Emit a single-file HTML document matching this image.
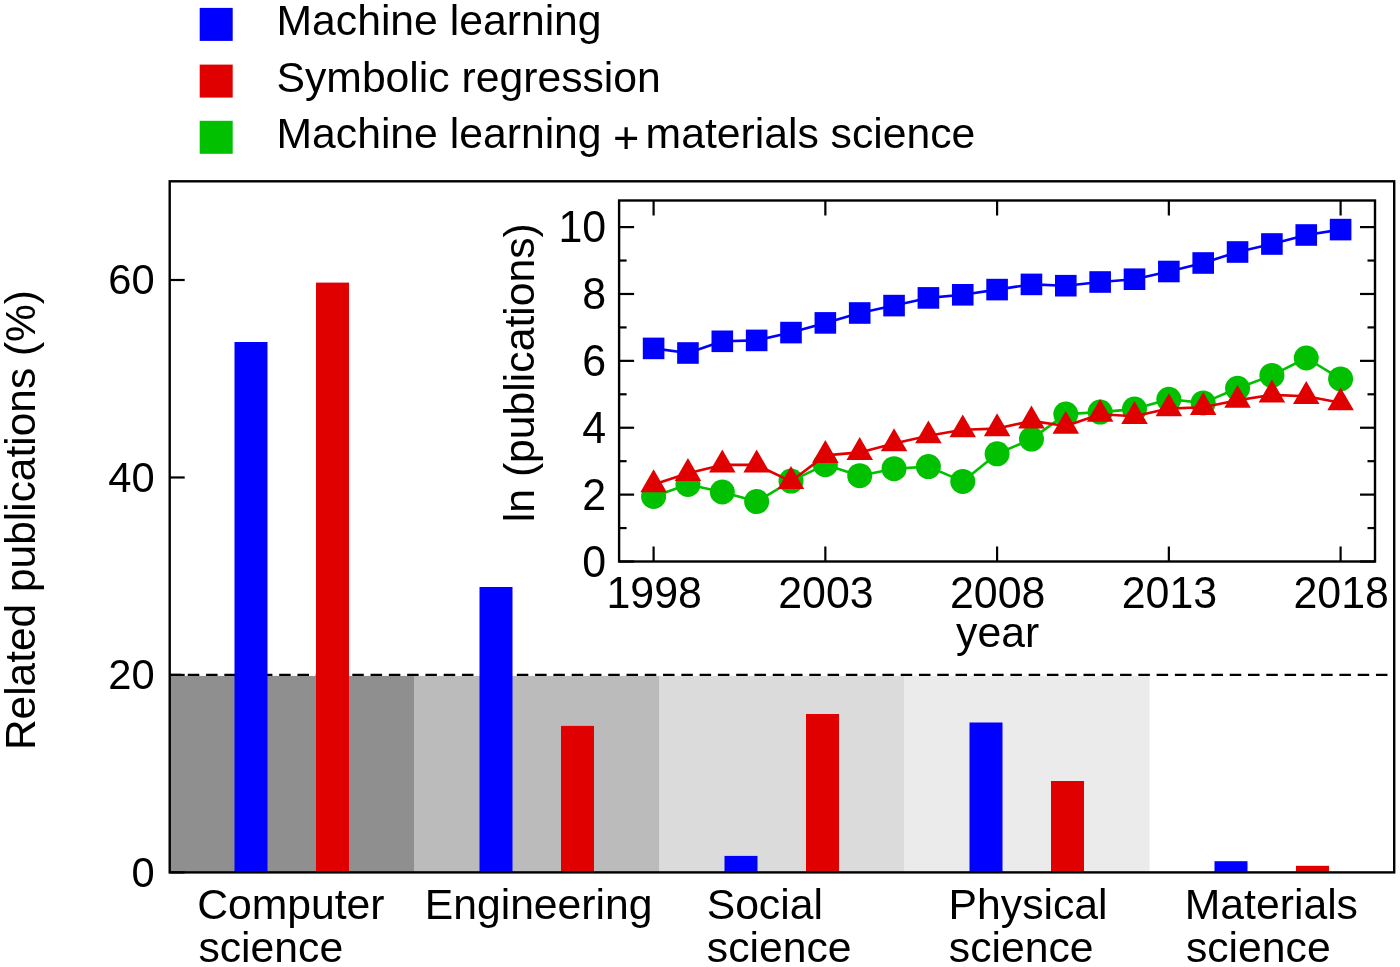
<!DOCTYPE html>
<html><head><meta charset="utf-8"><title>Related publications</title>
<style>
html,body{margin:0;padding:0;background:#fff;}
body{width:1400px;height:967px;overflow:hidden;}
svg{display:block;}
text{font-family:"Liberation Sans", Arial, Helvetica, sans-serif;fill:#000;}
</style></head>
<body>
<svg width="1400" height="967" viewBox="0 0 1400 967">
<rect width="1400" height="967" fill="#fff"/>
<rect x="199.7" y="7.9" width="33" height="33" fill="#0000ff"/>
<text x="276.50" y="35.40" text-anchor="start" font-size="42.7" >Machine learning</text>
<rect x="199.7" y="64.6" width="33" height="33" fill="#e00000"/>
<text x="276.50" y="91.60" text-anchor="start" font-size="42.7" >Symbolic regression</text>
<rect x="199.7" y="120.8" width="33" height="33" fill="#00c000"/>
<text x="276.50" y="147.80" text-anchor="start" font-size="42.7" >Machine learning</text>
<text x="613.00" y="152.50" text-anchor="start" font-size="45" >+</text>
<text x="645.60" y="147.80" text-anchor="start" font-size="42.7" >materials science</text>
<rect x="169.6" y="675.93" width="245" height="196.47" fill="#8f8f8f"/>
<rect x="414.6" y="675.93" width="245" height="196.47" fill="#bbbbbb"/>
<rect x="659.6" y="675.93" width="245" height="196.47" fill="#dbdbdb"/>
<rect x="904.6" y="675.93" width="245" height="196.47" fill="#ebebeb"/>
<line x1="169.5" y1="674.93" x2="1393" y2="674.93" stroke="#000" stroke-width="2.2" stroke-dasharray="11.5 6.78"/>
<rect x="234.50" y="342.0" width="33" height="530.40" fill="#0000ff"/>
<rect x="316.00" y="282.6" width="33" height="589.80" fill="#e00000"/>
<rect x="479.50" y="587.0" width="33" height="285.40" fill="#0000ff"/>
<rect x="561.00" y="725.9" width="33" height="146.50" fill="#e00000"/>
<rect x="724.50" y="855.9" width="33" height="16.50" fill="#0000ff"/>
<rect x="806.00" y="714.0" width="33" height="158.40" fill="#e00000"/>
<rect x="969.50" y="722.5" width="33" height="149.90" fill="#0000ff"/>
<rect x="1051.00" y="781.0" width="33" height="91.40" fill="#e00000"/>
<rect x="1214.50" y="861.2" width="33" height="11.20" fill="#0000ff"/>
<rect x="1296.00" y="865.8" width="33" height="6.60" fill="#e00000"/>
<rect x="169.7" y="181.3" width="1224.50" height="691.10" fill="none" stroke="#000" stroke-width="2.4"/>
<line x1="169.7" y1="872.40" x2="184.7" y2="872.40" stroke="#000" stroke-width="2.2"/>
<text x="154.60" y="886.70" text-anchor="end" font-size="41.7" >0</text>
<line x1="169.7" y1="674.93" x2="184.7" y2="674.93" stroke="#000" stroke-width="2.2"/>
<text x="154.60" y="689.23" text-anchor="end" font-size="41.7" >20</text>
<line x1="169.7" y1="477.47" x2="184.7" y2="477.47" stroke="#000" stroke-width="2.2"/>
<text x="154.60" y="491.77" text-anchor="end" font-size="41.7" >40</text>
<line x1="169.7" y1="280.00" x2="184.7" y2="280.00" stroke="#000" stroke-width="2.2"/>
<text x="154.60" y="294.30" text-anchor="end" font-size="41.7" >60</text>
<text transform="translate(35.20 750.08) rotate(-90) scale(1 1.0)" text-anchor="start" font-size="42.45">Related publications (%)</text>
<text x="197.13" y="919.20" text-anchor="start" font-size="42.7" >Computer</text>
<text x="198.41" y="962.20" text-anchor="start" font-size="42.7" >science</text>
<text x="424.70" y="919.20" text-anchor="start" font-size="42.7" >Engineering</text>
<text x="706.66" y="919.20" text-anchor="start" font-size="42.7" >Social</text>
<text x="706.81" y="962.20" text-anchor="start" font-size="42.7" >science</text>
<text x="948.60" y="919.20" text-anchor="start" font-size="42.7" >Physical</text>
<text x="948.81" y="962.20" text-anchor="start" font-size="42.7" >science</text>
<text x="1184.80" y="919.20" text-anchor="start" font-size="42.7" >Materials</text>
<text x="1185.91" y="962.20" text-anchor="start" font-size="42.7" >science</text>
<rect x="619.1" y="200.5" width="755.90" height="361.00" fill="#fff" stroke="#000" stroke-width="2.4"/>
<line x1="619.1" y1="561.50" x2="634.1" y2="561.50" stroke="#000" stroke-width="2.2"/>
<line x1="1375.0" y1="561.50" x2="1360.0" y2="561.50" stroke="#000" stroke-width="2.2"/>
<text transform="translate(606.20 576.50) scale(1 1.04)" text-anchor="end" font-size="42.9" >0</text>
<line x1="619.1" y1="528.06" x2="626.6" y2="528.06" stroke="#000" stroke-width="2.2"/>
<line x1="1375.0" y1="528.06" x2="1367.5" y2="528.06" stroke="#000" stroke-width="2.2"/>
<line x1="619.1" y1="494.62" x2="634.1" y2="494.62" stroke="#000" stroke-width="2.2"/>
<line x1="1375.0" y1="494.62" x2="1360.0" y2="494.62" stroke="#000" stroke-width="2.2"/>
<text transform="translate(606.20 509.62) scale(1 1.04)" text-anchor="end" font-size="42.9" >2</text>
<line x1="619.1" y1="461.18" x2="626.6" y2="461.18" stroke="#000" stroke-width="2.2"/>
<line x1="1375.0" y1="461.18" x2="1367.5" y2="461.18" stroke="#000" stroke-width="2.2"/>
<line x1="619.1" y1="427.74" x2="634.1" y2="427.74" stroke="#000" stroke-width="2.2"/>
<line x1="1375.0" y1="427.74" x2="1360.0" y2="427.74" stroke="#000" stroke-width="2.2"/>
<text transform="translate(606.20 442.74) scale(1 1.04)" text-anchor="end" font-size="42.9" >4</text>
<line x1="619.1" y1="394.30" x2="626.6" y2="394.30" stroke="#000" stroke-width="2.2"/>
<line x1="1375.0" y1="394.30" x2="1367.5" y2="394.30" stroke="#000" stroke-width="2.2"/>
<line x1="619.1" y1="360.86" x2="634.1" y2="360.86" stroke="#000" stroke-width="2.2"/>
<line x1="1375.0" y1="360.86" x2="1360.0" y2="360.86" stroke="#000" stroke-width="2.2"/>
<text transform="translate(606.20 375.86) scale(1 1.04)" text-anchor="end" font-size="42.9" >6</text>
<line x1="619.1" y1="327.42" x2="626.6" y2="327.42" stroke="#000" stroke-width="2.2"/>
<line x1="1375.0" y1="327.42" x2="1367.5" y2="327.42" stroke="#000" stroke-width="2.2"/>
<line x1="619.1" y1="293.98" x2="634.1" y2="293.98" stroke="#000" stroke-width="2.2"/>
<line x1="1375.0" y1="293.98" x2="1360.0" y2="293.98" stroke="#000" stroke-width="2.2"/>
<text transform="translate(606.20 308.98) scale(1 1.04)" text-anchor="end" font-size="42.9" >8</text>
<line x1="619.1" y1="260.54" x2="626.6" y2="260.54" stroke="#000" stroke-width="2.2"/>
<line x1="1375.0" y1="260.54" x2="1367.5" y2="260.54" stroke="#000" stroke-width="2.2"/>
<line x1="619.1" y1="227.10" x2="634.1" y2="227.10" stroke="#000" stroke-width="2.2"/>
<line x1="1375.0" y1="227.10" x2="1360.0" y2="227.10" stroke="#000" stroke-width="2.2"/>
<text transform="translate(606.20 242.10) scale(1 1.04)" text-anchor="end" font-size="42.9" >10</text>
<line x1="653.60" y1="561.5" x2="653.60" y2="546.5" stroke="#000" stroke-width="2.2"/>
<line x1="653.60" y1="200.5" x2="653.60" y2="215.5" stroke="#000" stroke-width="2.2"/>
<text transform="translate(654.20 607.60) scale(1 1.04)" text-anchor="middle" font-size="42.9" >1998</text>
<line x1="825.35" y1="561.5" x2="825.35" y2="546.5" stroke="#000" stroke-width="2.2"/>
<line x1="825.35" y1="200.5" x2="825.35" y2="215.5" stroke="#000" stroke-width="2.2"/>
<text transform="translate(825.95 607.60) scale(1 1.04)" text-anchor="middle" font-size="42.9" >2003</text>
<line x1="997.10" y1="561.5" x2="997.10" y2="546.5" stroke="#000" stroke-width="2.2"/>
<line x1="997.10" y1="200.5" x2="997.10" y2="215.5" stroke="#000" stroke-width="2.2"/>
<text transform="translate(997.70 607.60) scale(1 1.04)" text-anchor="middle" font-size="42.9" >2008</text>
<line x1="1168.85" y1="561.5" x2="1168.85" y2="546.5" stroke="#000" stroke-width="2.2"/>
<line x1="1168.85" y1="200.5" x2="1168.85" y2="215.5" stroke="#000" stroke-width="2.2"/>
<text transform="translate(1169.45 607.60) scale(1 1.04)" text-anchor="middle" font-size="42.9" >2013</text>
<line x1="1340.60" y1="561.5" x2="1340.60" y2="546.5" stroke="#000" stroke-width="2.2"/>
<line x1="1340.60" y1="200.5" x2="1340.60" y2="215.5" stroke="#000" stroke-width="2.2"/>
<text transform="translate(1341.20 607.60) scale(1 1.04)" text-anchor="middle" font-size="42.9" >2018</text>
<text x="997.60" y="646.50" text-anchor="middle" font-size="42.7" >year</text>
<text transform="translate(534.00 522.18) rotate(-90) scale(1 1.0)" text-anchor="start" font-size="42.7">ln (publications)</text>
<polyline points="653.60,348.40 687.95,353.00 722.30,341.30 756.65,340.40 791.00,332.60 825.35,322.90 859.70,313.00 894.05,305.60 928.40,297.90 962.75,294.80 997.10,289.60 1031.45,284.40 1065.80,285.70 1100.15,282.00 1134.50,279.20 1168.85,271.50 1203.20,263.00 1237.55,252.00 1271.90,244.00 1306.25,235.00 1340.60,229.60" fill="none" stroke="#0000ff" stroke-width="2.6" stroke-linejoin="round"/>
<rect x="642.80" y="337.60" width="21.6" height="21.6" fill="#0000ff"/>
<rect x="677.15" y="342.20" width="21.6" height="21.6" fill="#0000ff"/>
<rect x="711.50" y="330.50" width="21.6" height="21.6" fill="#0000ff"/>
<rect x="745.85" y="329.60" width="21.6" height="21.6" fill="#0000ff"/>
<rect x="780.20" y="321.80" width="21.6" height="21.6" fill="#0000ff"/>
<rect x="814.55" y="312.10" width="21.6" height="21.6" fill="#0000ff"/>
<rect x="848.90" y="302.20" width="21.6" height="21.6" fill="#0000ff"/>
<rect x="883.25" y="294.80" width="21.6" height="21.6" fill="#0000ff"/>
<rect x="917.60" y="287.10" width="21.6" height="21.6" fill="#0000ff"/>
<rect x="951.95" y="284.00" width="21.6" height="21.6" fill="#0000ff"/>
<rect x="986.30" y="278.80" width="21.6" height="21.6" fill="#0000ff"/>
<rect x="1020.65" y="273.60" width="21.6" height="21.6" fill="#0000ff"/>
<rect x="1055.00" y="274.90" width="21.6" height="21.6" fill="#0000ff"/>
<rect x="1089.35" y="271.20" width="21.6" height="21.6" fill="#0000ff"/>
<rect x="1123.70" y="268.40" width="21.6" height="21.6" fill="#0000ff"/>
<rect x="1158.05" y="260.70" width="21.6" height="21.6" fill="#0000ff"/>
<rect x="1192.40" y="252.20" width="21.6" height="21.6" fill="#0000ff"/>
<rect x="1226.75" y="241.20" width="21.6" height="21.6" fill="#0000ff"/>
<rect x="1261.10" y="233.20" width="21.6" height="21.6" fill="#0000ff"/>
<rect x="1295.45" y="224.20" width="21.6" height="21.6" fill="#0000ff"/>
<rect x="1329.80" y="218.80" width="21.6" height="21.6" fill="#0000ff"/>
<polyline points="653.60,496.50 687.95,484.50 722.30,492.00 756.65,501.60 791.00,481.10 825.35,464.70 859.70,475.70 894.05,468.70 928.40,466.60 962.75,481.40 997.10,453.80 1031.45,439.10 1065.80,414.10 1100.15,412.10 1134.50,409.10 1168.85,399.30 1203.20,402.90 1237.55,388.30 1271.90,375.40 1306.25,358.00 1340.60,378.90" fill="none" stroke="#00c000" stroke-width="2.6" stroke-linejoin="round"/>
<circle cx="653.60" cy="496.50" r="12.5" fill="#00c000"/>
<circle cx="687.95" cy="484.50" r="12.5" fill="#00c000"/>
<circle cx="722.30" cy="492.00" r="12.5" fill="#00c000"/>
<circle cx="756.65" cy="501.60" r="12.5" fill="#00c000"/>
<circle cx="791.00" cy="481.10" r="12.5" fill="#00c000"/>
<circle cx="825.35" cy="464.70" r="12.5" fill="#00c000"/>
<circle cx="859.70" cy="475.70" r="12.5" fill="#00c000"/>
<circle cx="894.05" cy="468.70" r="12.5" fill="#00c000"/>
<circle cx="928.40" cy="466.60" r="12.5" fill="#00c000"/>
<circle cx="962.75" cy="481.40" r="12.5" fill="#00c000"/>
<circle cx="997.10" cy="453.80" r="12.5" fill="#00c000"/>
<circle cx="1031.45" cy="439.10" r="12.5" fill="#00c000"/>
<circle cx="1065.80" cy="414.10" r="12.5" fill="#00c000"/>
<circle cx="1100.15" cy="412.10" r="12.5" fill="#00c000"/>
<circle cx="1134.50" cy="409.10" r="12.5" fill="#00c000"/>
<circle cx="1168.85" cy="399.30" r="12.5" fill="#00c000"/>
<circle cx="1203.20" cy="402.90" r="12.5" fill="#00c000"/>
<circle cx="1237.55" cy="388.30" r="12.5" fill="#00c000"/>
<circle cx="1271.90" cy="375.40" r="12.5" fill="#00c000"/>
<circle cx="1306.25" cy="358.00" r="12.5" fill="#00c000"/>
<circle cx="1340.60" cy="378.90" r="12.5" fill="#00c000"/>
<polyline points="653.60,484.50 687.95,473.30 722.30,464.90 756.65,464.90 791.00,481.30 825.35,455.40 859.70,452.40 894.05,443.60 928.40,435.70 962.75,429.70 997.10,428.60 1031.45,420.90 1065.80,426.00 1100.15,414.20 1134.50,416.30 1168.85,408.60 1203.20,407.30 1237.55,400.20 1271.90,394.90 1306.25,396.30 1340.60,402.70" fill="none" stroke="#e00000" stroke-width="2.6" stroke-linejoin="round"/>
<polygon points="653.60,469.20 640.35,492.15 666.85,492.15" fill="#e00000"/>
<polygon points="687.95,458.00 674.70,480.95 701.20,480.95" fill="#e00000"/>
<polygon points="722.30,449.60 709.05,472.55 735.55,472.55" fill="#e00000"/>
<polygon points="756.65,449.60 743.40,472.55 769.90,472.55" fill="#e00000"/>
<polygon points="791.00,466.00 777.75,488.95 804.25,488.95" fill="#e00000"/>
<polygon points="825.35,440.10 812.10,463.05 838.60,463.05" fill="#e00000"/>
<polygon points="859.70,437.10 846.45,460.05 872.95,460.05" fill="#e00000"/>
<polygon points="894.05,428.30 880.80,451.25 907.30,451.25" fill="#e00000"/>
<polygon points="928.40,420.40 915.15,443.35 941.65,443.35" fill="#e00000"/>
<polygon points="962.75,414.40 949.50,437.35 976.00,437.35" fill="#e00000"/>
<polygon points="997.10,413.30 983.85,436.25 1010.35,436.25" fill="#e00000"/>
<polygon points="1031.45,405.60 1018.20,428.55 1044.70,428.55" fill="#e00000"/>
<polygon points="1065.80,410.70 1052.55,433.65 1079.05,433.65" fill="#e00000"/>
<polygon points="1100.15,398.90 1086.90,421.85 1113.40,421.85" fill="#e00000"/>
<polygon points="1134.50,401.00 1121.25,423.95 1147.75,423.95" fill="#e00000"/>
<polygon points="1168.85,393.30 1155.60,416.25 1182.10,416.25" fill="#e00000"/>
<polygon points="1203.20,392.00 1189.95,414.95 1216.45,414.95" fill="#e00000"/>
<polygon points="1237.55,384.90 1224.30,407.85 1250.80,407.85" fill="#e00000"/>
<polygon points="1271.90,379.60 1258.65,402.55 1285.15,402.55" fill="#e00000"/>
<polygon points="1306.25,381.00 1293.00,403.95 1319.50,403.95" fill="#e00000"/>
<polygon points="1340.60,387.40 1327.35,410.35 1353.85,410.35" fill="#e00000"/>
</svg>
</body></html>
